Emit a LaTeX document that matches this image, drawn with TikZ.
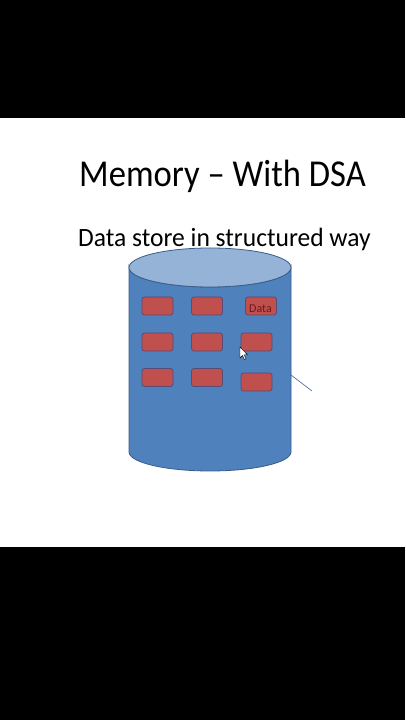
\documentclass[tikz,border=0pt]{standalone}
\usepackage{fontspec}
\setmainfont{Carlito}
\definecolor{cylbody}{HTML}{4F81BD}
\definecolor{cyltop}{HTML}{95B3D7}
\definecolor{cyledge}{HTML}{385D8A}
\definecolor{cellred}{HTML}{C0504D}
\definecolor{celledge}{HTML}{5A4A78}
\definecolor{datatext}{HTML}{6E1A1A}
\begin{document}
\begin{tikzpicture}[x=1pt,y=1pt,
  cell/.style={draw=celledge, line width=0.8pt, fill=cellred, rounded corners=2.5pt,
    minimum width=31pt, minimum height=18pt, inner sep=0pt},
  title/.style={font=\fontsize{38}{46}\selectfont, text=black, inner sep=0pt, anchor=base},
  subtitle/.style={font=\fontsize{26.4}{32}\selectfont, text=black, inner sep=0pt, anchor=base}]
\useasboundingbox (0,0) rectangle (405,720);
\fill[black] (0,0) rectangle (405,720);
\fill[white] (0,173) rectangle (405,602);
% title texts
\node[title] (ttl) at (222.5,533.3) {\scalebox{0.91}[1]{Memory – With DSA}};
\node[subtitle] (sub) at (224.5,473.3) {\scalebox{0.967}[1]{Data store in structured way}};
% cylinder
\path[fill=cylbody, draw=cyledge, line width=0.8pt]
  (129,452.5) -- (129,268) arc[start angle=180,end angle=360,x radius=81,y radius=19]
  -- (291,452.5) arc[start angle=0,end angle=-180,x radius=81,y radius=19.5] -- cycle;
\path[fill=cyltop, draw=cyledge, line width=0.8pt] (210,452.5) ellipse[x radius=81,y radius=19.5];
% cells
\node[cell] (c11) at (157.5,414) {};
\node[cell] (c12) at (207,414) {};
\node[cell] (c13) at (261,414) {};
\node[cell] (c21) at (157.5,378) {};
\node[cell] (c22) at (207,378) {};
\node[cell] (c23) at (256.5,378) {};
\node[cell] (c31) at (157.5,342.5) {};
\node[cell] (c32) at (207,342.5) {};
\node[cell] (c33) at (256.5,338) {};
\node[font=\fontsize{12}{14}\selectfont, text=datatext, inner sep=0pt] (dl) at (260.5,411.5) {Data};
% stray line
\coordinate (l1) at (291,345);
\coordinate (l2) at (312,329);
\draw[color=cyledge!80!gray, line width=0.6pt] (l1) -- (l2);
% mouse pointer
\path[fill=white, draw=black, line width=0.4pt]
  (240,373) -- (240,362) -- (242.5,364.5) -- (244.5,360.5) -- (246,361.2) -- (244,365.2) -- (247.5,365.2) -- cycle;
\end{tikzpicture}
\end{document}
